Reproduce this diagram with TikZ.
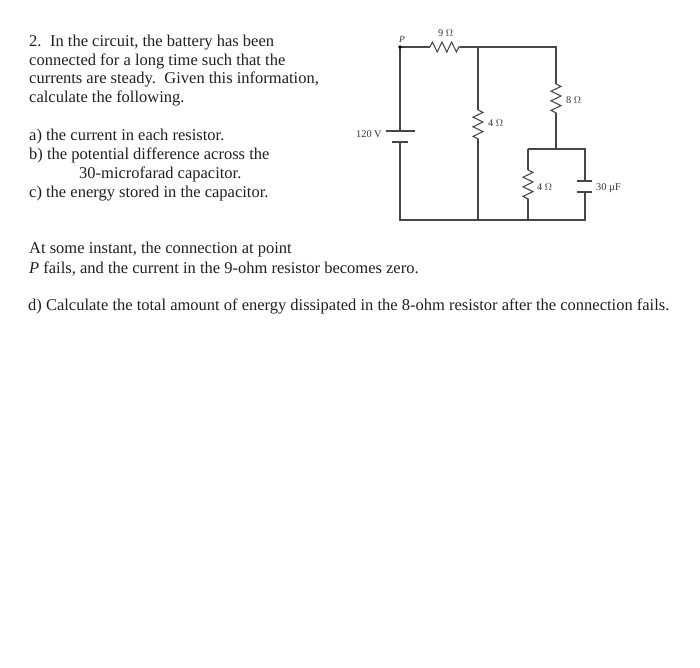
\documentclass[tikz,border=0pt]{standalone}
\usepackage{fontspec}
\setmainfont{Liberation Serif}
\usetikzlibrary{decorations.pathmorphing}
\tikzset{
  wire/.style={draw=black!72,line width=1.05pt},
  plate/.style={draw=black!72,line width=1.15pt},
  resistor/.style={wire,decoration={zigzag,segment length=9.6pt,amplitude=5pt},decorate},
  txt/.style={anchor=base west,inner sep=0pt,text=black!88,font=\fontsize{16.5}{18}\selectfont},
  lab/.style={anchor=base west,inner sep=0pt,text=black!80,font=\fontsize{10.3}{12}\selectfont}
}
\begin{document}
\begin{tikzpicture}[x=1pt,y=-1pt]
  \useasboundingbox (0,0) rectangle (700,667);
  % question text
  \node[txt] (t1) at (29,46) {2.\hspace{3pt} In the circuit, the battery has been};
  \node[txt] (t2) at (29,65) {connected for a long time such that the};
  \node[txt] (t3) at (29,83.5) {currents are steady.\hspace{3pt} Given this information,};
  \node[txt] (t4) at (29,102) {calculate the following.};
  \node[txt] (t5) at (29,140) {a) the current in each resistor.};
  \node[txt] (t6) at (29,159) {b) the potential difference across the};
  \node[txt] (t7) at (79,178) {30-microfarad capacitor.};
  \node[txt] (t8) at (29,197) {c) the energy stored in the capacitor.};
  \node[txt] (t9) at (29,253) {At some instant, the connection at point};
  \node[txt] (t10) at (29,273) {\textit{P} fails, and the current in the 9-ohm resistor becomes zero.};
  \node[txt] (t11) at (28,310.5) {d) Calculate the total amount of energy dissipated in the 8-ohm resistor after the connection fails.};
  % circuit points
  \coordinate (P) at (400,47);
  \coordinate (r9a) at (430,47);
  \coordinate (r9b) at (460,47);
  \coordinate (top) at (478,47);
  \coordinate (topr) at (556,47);
  \coordinate (r8a) at (556,84);
  \coordinate (r8b) at (556,113);
  \coordinate (boxm) at (556,149);
  \coordinate (boxl) at (528,149);
  \coordinate (boxr) at (585,149);
  \coordinate (r4a) at (478,110);
  \coordinate (r4b) at (478,139);
  \coordinate (r5a) at (528,170);
  \coordinate (r5b) at (528,199);
  \coordinate (batt1) at (400,131);
  \coordinate (batt2) at (400,142);
  \coordinate (cap1) at (585,181);
  \coordinate (cap2) at (585,192);
  \coordinate (botl) at (400,220);
  \coordinate (botm) at (478,220);
  \coordinate (botn) at (528,220);
  \coordinate (botr) at (585,220);
  % wires
  \draw[wire] (batt1) -- (P) -- (r9a);
  \draw[resistor] (r9a) -- (r9b);
  \draw[wire] (r9b) -- (topr) -- (r8a);
  \draw[resistor] (r8a) -- (r8b);
  \draw[wire] (r8b) -- (boxm);
  \draw[wire] (boxl) -- (boxr) -- (cap1);
  \draw[wire] (boxl) -- (r5a);
  \draw[resistor] (r5a) -- (r5b);
  \draw[wire] (r5b) -- (botn);
  \draw[wire] (top) -- (r4a);
  \draw[resistor] (r4a) -- (r4b);
  \draw[wire] (r4b) -- (botm);
  \draw[wire] (batt2) -- (botl) -- (botr) -- (cap2);
  \fill (P) circle (1.8pt);
  % battery and capacitor plates
  \draw[plate] ([xshift=-14.5pt]batt1) -- ([xshift=15pt]batt1);
  \draw[plate] ([xshift=-8pt]batt2) -- ([xshift=8pt]batt2);
  \draw[plate] ([xshift=-8pt]cap1) -- ([xshift=7pt]cap1);
  \draw[plate] ([xshift=-8pt]cap2) -- ([xshift=7pt]cap2);
  % labels
  \node[lab,font=\fontsize{9.5}{11}\selectfont\itshape] (lP) at (399,42) {P};
  \node[lab] (l9) at (438,36) {9 $\Omega$};
  \node[lab] (l8) at (566,103) {8 $\Omega$};
  \node[lab] (l4) at (488,126) {4 $\Omega$};
  \node[lab] (l5) at (537,190) {4 $\Omega$};
  \node[lab] (lV) at (356,137) {120 V};
  \node[lab] (lC) at (596,190) {30 µF};
\end{tikzpicture}
\end{document}
